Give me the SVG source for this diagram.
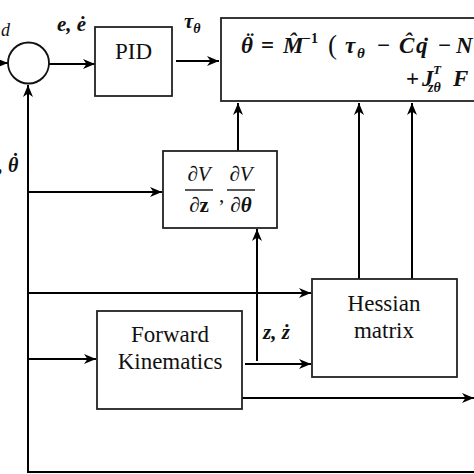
<svg xmlns="http://www.w3.org/2000/svg" width="474" height="474" viewBox="0 0 474 474">
<style>
.box{fill:#fff;stroke:#222;stroke-width:1.8}
.ln{fill:none;stroke:#000;stroke-width:2}
text{font-family:'Liberation Serif','Times New Roman','DejaVu Serif',serif;fill:#111}
.m{font-weight:bold;font-style:italic}
.n{font-style:normal}
</style>
<defs>
<marker id="ah" viewBox="0 0 12 10" refX="12" refY="5" markerWidth="12" markerHeight="10" markerUnits="userSpaceOnUse" orient="auto">
<path d="M0,0 L12,5 L0,10 L3.5,5 z" fill="#000"/>
</marker>
</defs>
<rect width="474" height="474" fill="#fff"/>
<g id="connectors">
<line class="ln" x1="0" y1="63" x2="8" y2="63" marker-end="url(#ah)"/>
<line class="ln" x1="49" y1="64" x2="95" y2="64" marker-end="url(#ah)"/>
<line class="ln" x1="176" y1="61" x2="219" y2="61" marker-end="url(#ah)"/>
<polyline class="ln" points="475,472 28,472 28,85" marker-end="url(#ah)"/>
<line class="ln" x1="28" y1="192" x2="162" y2="192" marker-end="url(#ah)"/>
<line class="ln" x1="28" y1="293" x2="311" y2="293" marker-end="url(#ah)"/>
<line class="ln" x1="28" y1="359" x2="96" y2="359" marker-end="url(#ah)"/>
<line class="ln" x1="238" y1="151" x2="238" y2="103" marker-end="url(#ah)"/>
<line class="ln" x1="245" y1="364" x2="311" y2="364" marker-end="url(#ah)"/>
<line class="ln" x1="257" y1="361" x2="257" y2="229" marker-end="url(#ah)"/>
<line class="ln" x1="359" y1="279" x2="359" y2="103" marker-end="url(#ah)"/>
<line class="ln" x1="412" y1="279" x2="412" y2="103" marker-end="url(#ah)"/>
<line class="ln" x1="242" y1="398" x2="474" y2="398" marker-end="url(#ah)"/>
</g>
<g id="labels">
<text x="1" y="36" font-size="18" font-style="italic">d</text>
<text class="m" x="57" y="31" font-size="21">e, ė</text>
<text class="m" x="184" y="28" font-size="21">τ<tspan font-size="14" dy="5">θ</tspan></text>
<text class="m" font-size="20"><tspan x="-2" y="172">, θ</tspan><tspan x="11" y="168">˙</tspan></text>
<text class="m" x="263" y="339" font-size="21">z, ż</text>
</g>
<g id="sum">
<circle cx="28.5" cy="63" r="20.5" fill="#fff" stroke="#111" stroke-width="1.8"/>
</g>
<g id="pid">
<rect class="box" x="95" y="27" width="77" height="69"/>
<text x="133.5" y="59" font-size="23" text-anchor="middle">PID</text>
</g>
<g id="dynamics">
<rect class="box" x="221" y="18" width="260" height="83"/>
<text class="m" font-size="23"><tspan x="241" y="53">θ</tspan><tspan x="245" y="49">¨</tspan><tspan x="261" y="53" class="n">=</tspan><tspan x="283" y="53">M̂</tspan><tspan x="303" y="43" font-size="14" class="n">−1</tspan><tspan x="328" y="54" font-size="27" font-weight="normal" class="n">(</tspan><tspan x="345" y="53">τ</tspan><tspan x="357" y="58" font-size="15">θ</tspan><tspan x="377" y="53" class="n">−</tspan><tspan x="399" y="53">Ĉ</tspan><tspan x="416" y="53">q</tspan><tspan x="421" y="54">˙</tspan><tspan x="438" y="53" class="n">−</tspan><tspan x="456" y="53">N</tspan></text>
<text class="m" font-size="23"><tspan x="406" y="86" class="n">+</tspan><tspan x="422" y="86">J</tspan><tspan x="433" y="74" font-size="13">T</tspan><tspan x="428" y="92" font-size="14">zθ</tspan><tspan x="453" y="86">F</tspan></text>
</g>
<g id="dv">
<rect class="box" x="163" y="151" width="114" height="77"/>
<text x="199" y="181" font-size="21" font-style="italic" text-anchor="middle">∂V</text>
<line x1="185" y1="190" x2="213" y2="190" stroke="#111" stroke-width="1.4"/>
<text x="199" y="212" font-size="21" text-anchor="middle"><tspan font-style="italic">∂</tspan><tspan font-weight="bold">z</tspan></text>
<text x="219" y="202" font-size="21">,</text>
<text x="241" y="181" font-size="21" font-style="italic" text-anchor="middle">∂V</text>
<line x1="227" y1="190" x2="255" y2="190" stroke="#111" stroke-width="1.4"/>
<text x="241" y="212" font-size="21" text-anchor="middle"><tspan font-style="italic">∂</tspan><tspan font-weight="bold" font-style="italic">θ</tspan></text>
</g>
<g id="hessian">
<rect class="box" x="312" y="279" width="145" height="98"/>
<text x="384" y="311" font-size="23" text-anchor="middle">Hessian</text>
<text x="384" y="338" font-size="23" text-anchor="middle">matrix</text>
</g>
<g id="fk">
<rect class="box" x="97" y="311" width="145" height="98"/>
<text x="170" y="342" font-size="23" text-anchor="middle">Forward</text>
<text x="170" y="369" font-size="23" text-anchor="middle">Kinematics</text>
</g>
</svg>
